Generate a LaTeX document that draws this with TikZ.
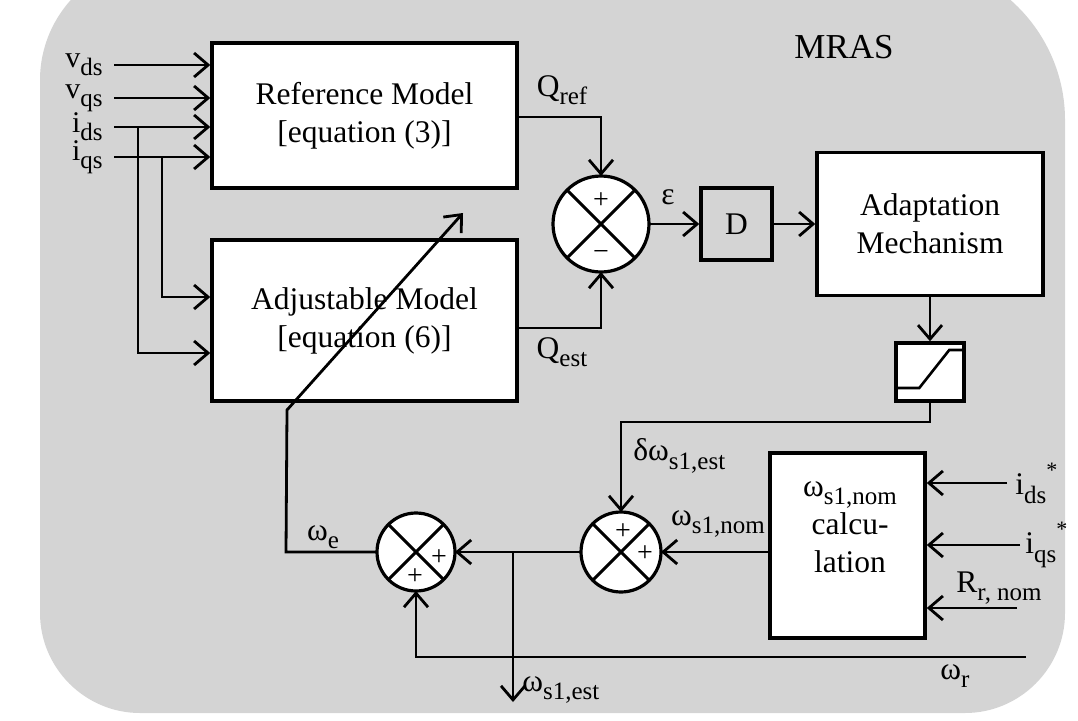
\documentclass[tikz,border=0pt]{standalone}
\usepackage{fontspec}
\setmainfont{Liberation Serif}
\usetikzlibrary{arrows.meta,positioning}
\definecolor{panelgray}{RGB}{212,212,212}
\newcommand{\sbs}[1]{\raisebox{-0.27em}{\fontsize{25}{25}\selectfont #1}}
\newcommand{\sps}[1]{\raisebox{0.55em}{\fontsize{22}{22}\selectfont #1}}
\tikzset{
  blk/.style={draw, fill=white, line width=3.5pt, inner sep=0pt, align=center},
  sumnode/.style={circle, draw, fill=white, line width=3.2pt, inner sep=0pt, outer sep=0pt},
  sgn/.style={inner sep=0pt, font=\fontsize{28}{28}\selectfont},
  lbl/.style={inner sep=0pt},
}
\begin{document}
\begin{tikzpicture}[x=1pt, y=-1pt, line width=2.8pt,
  >={Straight Barb[length=14pt,width=24pt]},
  font=\fontsize{31.5}{38}\selectfont]
\useasboundingbox (0,0) rectangle (1078,720);
\clip (0,0) rectangle (1078,720);
% panel
\fill[panelgray] (40,80) .. controls (40,14) and (94,-40) .. (160,-40) -- (905,-40)
  .. controls (993,-40) and (1065,32) .. (1065,120) -- (1065,613)
  .. controls (1065,668) and (1020,713) .. (965,713) -- (140,713)
  .. controls (85,713) and (40,668) .. (40,613) -- cycle;
\node (mras) at (844,47) {\fontsize{35}{40}\selectfont MRAS};

% models
\node[blk, minimum width=305pt, minimum height=145pt] (refm) at (364.5,115.5) {Reference Model\\{}[equation (3)]};
\node[blk, minimum width=305pt, minimum height=161pt] (adjm) at (364.5,320.5) {Adjustable Model\\{}[equation (6)]};

% inputs
\foreach \y/\lab [count=\i] in {65/{v\sbs{ds}}, 98/{v\sbs{qs}}, 127/{i\sbs{ds}}, 157/{i\sbs{qs}}} {
  \coordinate (in\i) at (114,\y);
  \node[lbl, anchor=east, font=\fontsize{30}{30}\selectfont] (inlab\i) at (104,\y) {\lab};
  \draw[->] (in\i) -- (in\i -| refm.west);
}
\coordinate (br1) at (138,127);
\coordinate (br2) at (162,157);
\draw[->] (br2) |- ([yshift=23.5pt]adjm.west);
\draw[->] (br1) |- ([yshift=-32.5pt]adjm.west);

% error
\node[sumnode, minimum size=96pt] (sum1) at (601,224) {};
\draw[line width=3pt] (sum1.north west) -- (sum1.south east) (sum1.north east) -- (sum1.south west);
\node[sgn] (sum1p) at ([yshift=23pt]sum1.center) {+};
\node[sgn] (sum1m) at ([yshift=-31pt]sum1.center) {−};
\draw[->] ([yshift=-1.5pt]refm.east) -| (sum1.north);
\draw[->] ([yshift=-7.5pt]adjm.east) -| (sum1.south);
\node[lbl] (qref) at (562,90) {Q\sbs{ref}};
\node[lbl] (qest) at (562,352) {Q\sbs{est}};

\node[blk, fill=none, minimum width=71pt, minimum height=72pt] (dblk) at (736.5,224) {D};
\node[blk, minimum width=226pt, minimum height=143pt] (adapt) at (930,224) {Adaptation\\Mechanism};
\draw[->] (sum1) -- (dblk);
\node[lbl] (eps) at (668,197) {ε};
\draw[->] (dblk) -- (adapt);

% limiter
\node[blk, minimum width=68pt, minimum height=58pt] (sat) at (930,372) {};
\draw[line width=2.6pt] ([yshift=-16pt]sat.west) -- ++(25,0) -- ++(30,-38) -- ++(13,0);
\draw[->] (adapt) -- (sat);

% slip correction
\node[sumnode, minimum size=80pt] (sum2) at (621,552) {};
\draw[line width=3pt] (sum2.north west) -- (sum2.south east) (sum2.north east) -- (sum2.south west);
\node[sgn] (sum2p1) at ([xshift=2pt,yshift=20pt]sum2.center) {+};
\node[sgn] (sum2p2) at ([xshift=24pt,yshift=-2pt]sum2.center) {+};
\coordinate (k1) at (930,422);
\draw[->] (sat.south) -- (k1) -| (sum2.north);
\node[lbl, anchor=west] (dwlab) at (632,456) {δω\sbs{s1,est}};

\node[blk, minimum width=155pt, minimum height=185pt] (calc) at (847.5,545.5) {};
\node[inner sep=0pt, align=center] (calctxt) at (850,527) {ω\sbs{s1,nom}\\calcu-\\lation};
\coordinate (c1) at (1007,483);
\coordinate (c2) at (1020,545);
\coordinate (c3) at (1017,608);
\foreach \c in {c1,c2,c3} \draw[->] (\c) -- (\c -| calc.east);
\node[lbl, anchor=west] (idsr) at (1014,483) {i\sbs{ds}\sps{*}};
\node[lbl, anchor=west] (iqsr) at (1024,545) {i\sbs{qs}\sps{*}};
\node[lbl, anchor=west] (rrnom) at (955,588) {R\sbs{r, nom}};
\draw[->] (calc.west |- sum2.east) -- (sum2.east);
\node[lbl] (wnom) at (718,524) {ω\sbs{s1,nom}};

% speed sum
\node[sumnode, minimum size=78pt] (sum3) at (416,552) {};
\draw[line width=3pt] (sum3.north west) -- (sum3.south east) (sum3.north east) -- (sum3.south west);
\node[sgn] (sum3p1) at ([xshift=23pt,yshift=-6pt]sum3.center) {+};
\node[sgn] (sum3p2) at ([xshift=-1pt,yshift=-25pt]sum3.center) {+};
\draw[->] (sum2) -- (sum3);
\coordinate (j1) at (513,552);
\coordinate (wout) at (513,702);
\draw[->] (j1) -- (wout);
\node[lbl, anchor=west] (westlab) at (521,690) {ω\sbs{s1,est}};
\coordinate (wr) at (1026,657);
\draw[->] (wr) -| (sum3.south);
\node[lbl] (wrlab) at (955,676) {ω\sbs{r}};

% feedback to adjustable model
\coordinate (k2) at (286,552);
\coordinate (k3) at (287,410);
\coordinate (tip) at (463,213);
\draw[->] (sum3.west) -- (k2) -- (k3) -- (tip);
\node[lbl] (welab) at (323,537) {ω\sbs{e}};
\end{tikzpicture}
\end{document}
